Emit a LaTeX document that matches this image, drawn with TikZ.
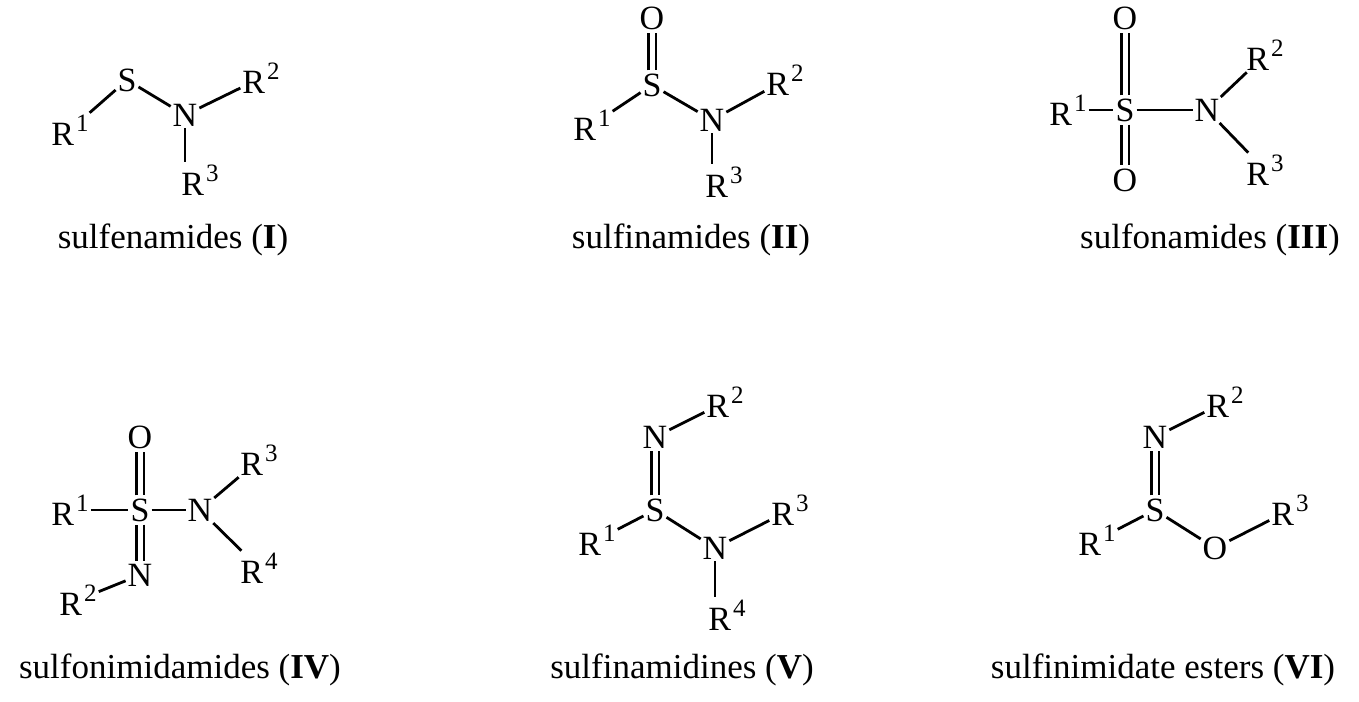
\documentclass[tikz,border=0pt]{standalone}
\usepackage{fontspec}
\setmainfont{Liberation Serif}
\newcommand\Rg[1]{R\kern2pt\raisebox{.42em}{\fontsize{25}{25}\selectfont #1}}
\begin{document}
\begin{tikzpicture}[x=1pt,y=-1pt,
  atm/.style={inner sep=1pt,font=\fontsize{34}{36}\selectfont},
  lab/.style={inner sep=0pt,font=\fontsize{35}{40}\selectfont},
  bd/.style={line width=2.8pt,shorten <=1pt,shorten >=1pt},
  db/.style={line width=2.5pt,double,double distance=5pt,shorten <=2pt,shorten >=2pt}]
\useasboundingbox[fill=white] (0,0) rectangle (1359,701);
% I
\node[atm] (a1) at (70,130) {\Rg{1}};
\node[atm] (aS) at (127,80) {S};
\node[atm] (aN) at (185,115) {N};
\node[atm] (a2) at (261,78) {\Rg{2}};
\node[atm] (a3) at (200,180) {\Rg{3}};
\draw[bd] (a1) -- (aS); \draw[bd] (aS) -- (aN); \draw[bd] (aN) -- (a2);
\draw[bd] (aN.south) -- (aN.south |- a3.north);
\node[lab] (la) at (173,240) {sulfenamides (\textbf{I})};
% II
\node[atm] (b1) at (592,125) {\Rg{1}};
\node[atm] (bS) at (652,85) {S};
\node[atm] (bO) at (652,18) {O};
\node[atm] (bN) at (712,120) {N};
\node[atm] (b2) at (785,80) {\Rg{2}};
\node[atm] (b3) at (724,182) {\Rg{3}};
\draw[bd] (b1) -- (bS); \draw[bd] (bS) -- (bN); \draw[bd] (bN) -- (b2);
\draw[db] (bS) -- (bO);
\draw[bd] (bN.south) -- (bN.south |- b3.north);
\node[lab] (lb) at (691,240) {sulfinamides (\textbf{II})};
% III
\node[atm] (c1) at (1068,110) {\Rg{1}};
\node[atm] (cS) at (1125,110) {S};
\node[atm] (cO) at (1125,18) {O};
\node[atm] (cP) at (1125,180) {O};
\node[atm] (cN) at (1207,110) {N};
\node[atm] (c2) at (1265,55) {\Rg{2}};
\node[atm] (c3) at (1265,170) {\Rg{3}};
\draw[bd] (c1) -- (cS); \draw[bd] (cS) -- (cN); \draw[bd] (cN) -- (c2); \draw[bd] (cN) -- (c3);
\draw[db] (cS) -- (cO); \draw[db] (cS) -- (cP);
\node[lab] (lc) at (1210,240) {sulfonamides (\textbf{III})};
% IV
\node[atm] (d1) at (70,510) {\Rg{1}};
\node[atm] (dS) at (140,510) {S};
\node[atm] (dO) at (140,437) {O};
\node[atm] (dM) at (140,575) {N};
\node[atm] (dN) at (200,510) {N};
\node[atm] (d3) at (259,460) {\Rg{3}};
\node[atm] (d4) at (259,568) {\Rg{4}};
\node[atm] (d2) at (78,600) {\Rg{2}};
\draw[bd] (d1) -- (dS); \draw[bd] (dS) -- (dN); \draw[bd] (dN) -- (d3); \draw[bd] (dN) -- (d4);
\draw[db] (dS) -- (dO); \draw[db] (dS) -- (dM); \draw[bd] (dM) -- (d2);
\node[lab] (ld) at (180,670) {sulfonimidamides (\textbf{IV})};
% V
\node[atm] (eT) at (655,437) {N};
\node[atm] (e2) at (725,402) {\Rg{2}};
\node[atm] (eS) at (655,510) {S};
\node[atm] (e1) at (597,540) {\Rg{1}};
\node[atm] (eN) at (715,548) {N};
\node[atm] (e3) at (790,510) {\Rg{3}};
\node[atm] (e4) at (727,615) {\Rg{4}};
\draw[db] (eS) -- (eT); \draw[bd] (eT) -- (e2);
\draw[bd] (e1) -- (eS); \draw[bd] (eS) -- (eN); \draw[bd] (eN) -- (e3);
\draw[bd] (eN.south) -- (eN.south |- e4.north);
\node[lab] (le) at (682,670) {sulfinamidines (\textbf{V})};
% VI
\node[atm] (fT) at (1155,437) {N};
\node[atm] (f2) at (1225,402) {\Rg{2}};
\node[atm] (fS) at (1155,510) {S};
\node[atm] (f1) at (1097,540) {\Rg{1}};
\node[atm] (fO) at (1215,548) {O};
\node[atm] (f3) at (1290,510) {\Rg{3}};
\draw[db] (fS) -- (fT); \draw[bd] (fT) -- (f2);
\draw[bd] (f1) -- (fS); \draw[bd] (fS) -- (fO); \draw[bd] (fO) -- (f3);
\node[lab] (lf) at (1163,670) {sulfinimidate esters (\textbf{VI})};
\end{tikzpicture}
\end{document}
